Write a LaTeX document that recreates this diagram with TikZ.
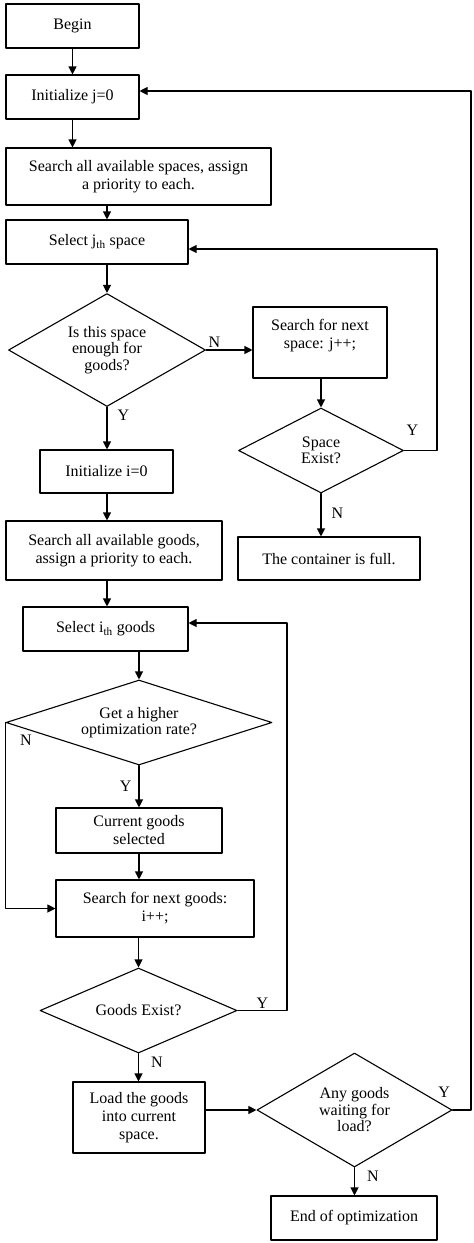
\documentclass[tikz,border=0pt]{standalone}
\usepackage{fontspec}
\setmainfont{Liberation Serif}
\usetikzlibrary{arrows.meta}
\usetikzlibrary{shapes.geometric}

\tikzset{
  block/.style={draw, line width=1.1pt, align=center, inner sep=1pt, font=\fontsize{16}{18}\selectfont},
  decision/.style={draw, diamond, line width=1.1pt, align=center, inner sep=0pt, font=\fontsize{16}{16.5}\selectfont},
  flow/.style={line width=1.1pt, -{Triangle[length=8pt, width=8pt]}},
  branch/.style={font=\fontsize{16}{18}\selectfont, inner sep=2pt}
}

\begin{document}
\begin{tikzpicture}[x=1pt, y=1pt, line cap=round, line join=round]

\useasboundingbox (0,0) rectangle (474,-1243);

% Space part

\node[block, minimum width=133pt, minimum height=44pt] (begin) at (72.5,-26) {Begin};
\node[block, minimum width=133pt, minimum height=44pt] (initj) at (72.5,-97) {Initialize j=0};
\node[block, minimum width=265pt, minimum height=57pt] (searchsp) at (138.5,-176.5) {Search all available spaces, assign\\a priority to each.};
\node[block, minimum width=182pt, minimum height=44pt] (selj) at (97,-242) {Select j\textsubscript{th} space};

\node[decision, minimum width=197pt, minimum height=113pt, aspect=1.7] (spaceok) at (107,-350) {Is this space\\enough for\\goods?};
\node[block, minimum width=134pt, minimum height=71pt] (nextsp) at (320,-342.5) {Search for next\\space: j++;\\\mbox{}};
\node[decision, minimum width=165pt, minimum height=85pt, aspect=2] (spexist) at (321,-450.5) {Space\\Exist?};
\node[block, minimum width=182pt, minimum height=43pt] (full) at (329,-558.5) {The container is full.};

\coordinate (railsp) at (437,-249);
\coordinate (railout) at (471,-91);

% Goods part

\node[block, minimum width=133pt, minimum height=43pt] (initi) at (106.5,-471.5) {Initialize i=0};
\node[block, minimum width=216pt, minimum height=59pt] (searchgd) at (114,-550.5) {Search all available goods,\\assign a priority to each.};
\node[block, minimum width=165pt, minimum height=44pt] (seli) at (105.5,-629) {Select i\textsubscript{th} goods};

\node[decision, minimum width=266pt, minimum height=85pt, aspect=3.1] (higher) at (139,-722.5) {Get a higher\\optimization rate?};
\node[block, minimum width=166pt, minimum height=45pt] (cursel) at (139,-830.5) {Current goods\\selected};
\node[block, minimum width=198pt, minimum height=57pt] (nextgd) at (155,-908.5) {Search for next goods:\\i++;};
\node[decision, minimum width=197pt, minimum height=85pt, aspect=3] (gdexist) at (138.5,-1010.5) {Goods Exist?};
\node[block, minimum width=132pt, minimum height=71pt] (load) at (139,-1117.5) {Load the goods\\into current\\space.};

\node[decision, minimum width=195pt, minimum height=114pt, aspect=1.7] (anygd) at (354.5,-1110) {Any goods\\waiting for\\load?};
\node[block, minimum width=166pt, minimum height=44pt] (endopt) at (354,-1218) {End of optimization};

\coordinate (railgd) at (287,-623);

% Connectors, space loop

\draw[flow] (begin) -- (initj);
\draw[flow] (initj) -- (initj.south |- searchsp.north);
\draw[flow] (searchsp.south -| spaceok) -- (selj.north -| spaceok);
\draw[flow] (selj.south -| spaceok) -- (spaceok);

\draw[flow] (spaceok) -- node[branch, above, pos=0.18]{N} (spaceok -| nextsp.west);
\draw[flow] (spaceok) -- node[branch, right, pos=0.2, xshift=8pt]{Y} (spaceok |- initi.north);

\draw[flow] (nextsp.south -| spexist) -- (spexist);
\draw[flow] (spexist.east) node[branch, above right, yshift=12pt]{Y} -- (spexist.east -| railsp) -- (railsp) -- ([yshift=-7pt]selj.east);
\draw[flow] (spexist.south) -- node[branch, right, pos=0.45, xshift=8pt]{N} (spexist.south |- full.north);

% Connectors, goods loop

\draw[flow] (initi.south -| spaceok) -- (searchgd.north -| spaceok);
\draw[flow] (searchgd.south -| spaceok) -- (seli.north -| spaceok);
\draw[flow] (seli.south -| higher) -- (higher);

\draw[flow] (higher) -- node[branch, left, pos=0.5, xshift=-5pt]{Y} (cursel);
\draw[flow] (higher.west) node[branch, below right, xshift=12pt, yshift=-10pt]{N} |- (nextgd.west);
\draw[flow] (cursel) -- (cursel.south |- nextgd.north);

\draw[flow] (nextgd.south -| gdexist) -- (gdexist);
\draw[flow] (gdexist.east) -- node[branch, above, inner sep=1pt]{Y} (gdexist.east -| railgd) -- (railgd) -- ([yshift=6pt]seli.east);
\draw[flow] (gdexist) -- node[branch, right, pos=0.3, xshift=10pt]{N} (gdexist |- load.north);

\draw[flow] (load.east |- anygd) -- (anygd);
\draw[flow] (anygd.east) node[branch, above left, yshift=10pt]{Y} -- (anygd.east -| railout) -- (railout) -- ([yshift=6pt]initj.east);
\draw[flow] (anygd) -- node[branch, right, pos=0.3, xshift=10pt]{N} (anygd |- endopt.north);

\end{tikzpicture}
\end{document}
